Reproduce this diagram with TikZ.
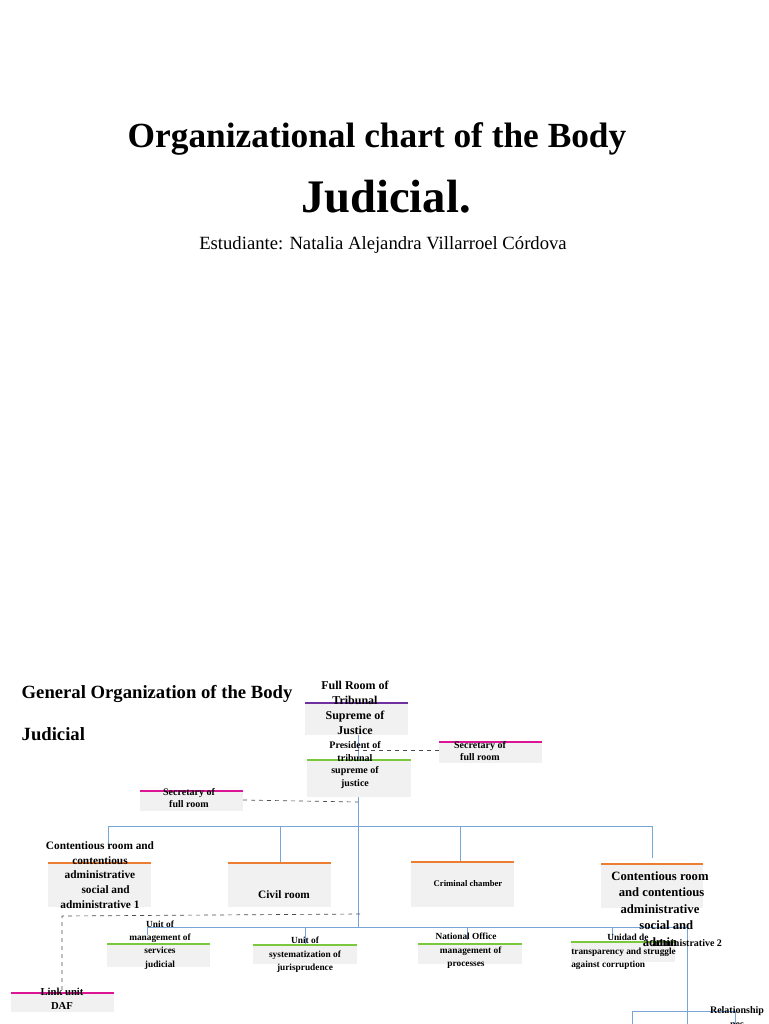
\documentclass[tikz,border=0pt]{standalone}
\usepackage{fontspec}
\setmainfont{Liberation Serif}
\usetikzlibrary{positioning}
\tikzset{>=stealth}
\definecolor{boxgray}{RGB}{241,241,241}
\definecolor{barpurple}{RGB}{112,48,160}
\definecolor{bargreen}{RGB}{122,200,60}
\definecolor{barpink}{RGB}{220,20,150}
\definecolor{barorange}{RGB}{237,125,49}
\definecolor{linkblue}{RGB}{120,165,215}
\tikzset{
  unitbox/.style={fill=boxgray,draw=none},
  unittext/.style={font=\bfseries\fontsize{8}{10}\selectfont,align=center,inner sep=0pt},
  link/.style={linkblue,line width=0.6pt},
  dotlink/.style={black!70,dashed,line width=0.5pt}
}
% box with coloured top bar: x1,y1,x2,y2,colour
\newcommand{\orgbox}[5]{%
  \fill[boxgray] (#1,#2) rectangle (#3,#4);
  \draw[#5,line width=2.2pt] (#1,#2) -- (#3,#2);}
\begin{document}
\begin{tikzpicture}[x=0.75pt,y=-0.75pt]
  \useasboundingbox (0,0) rectangle (768,1024);

  % titles
  \node (title) at (377,139) {\bfseries\fontsize{26.5}{30}\selectfont Organizational chart of the Body};
  \node (title2) at (386,197) {\bfseries\fontsize{35}{40}\selectfont Judicial.};
  \node (student) at (383,245) {\fontsize{14}{17}\selectfont Estudiante: Natalia Alejandra Villarroel Córdova};
  \node[anchor=west] (sub1) at (17,694) {\bfseries\fontsize{14}{17}\selectfont General Organization of the Body};
  \node[anchor=west] (sub2) at (17,734) {\bfseries\fontsize{14}{17}\selectfont Judicial};

  % connectors
  \draw[link] (358,735) -- (358,927);
  \draw[link] (108,826) -- (652,826);
  \foreach \x/\y in {108/847,280/863,460/862,652/858} \draw[link] (\x,826) -- (\x,\y);
  \draw[link] (147,927) -- (687,927);
  \foreach \x/\y in {147/935,305/945,467/940,612/940} \draw[link] (\x,927) -- (\x,\y);
  \draw[link] (687,927) -- (687,1024);
  \draw[link] (632,1011) -- (735,1011);
  \draw[link] (632,1011) -- (632,1024);
  \draw[link] (735,1011) -- (735,1024);
  \draw[dotlink] (355,750) -- (439,750);
  \draw[dotlink] (243,800) -- (358,802);
  \draw[dotlink] (360,914) -- (62,916) -- (62,993);

  % boxes
  \orgbox{305}{703}{408}{735}{barpurple}
  \orgbox{307}{760}{411}{797}{bargreen}
  \orgbox{439}{742}{542}{763}{barpink}
  \orgbox{140}{791}{243}{811}{barpink}
  \orgbox{48}{863}{151}{907}{barorange}
  \orgbox{228}{863}{331}{907}{barorange}
  \orgbox{411}{862}{514}{907}{barorange}
  \orgbox{601}{864}{703}{908}{barorange}
  \orgbox{107}{944}{210}{967}{bargreen}
  \orgbox{253}{945}{357}{964}{bargreen}
  \orgbox{418}{944}{522}{964}{bargreen}
  \orgbox{571}{942}{675}{962}{bargreen}
  \orgbox{11}{993}{114}{1012}{barpink}

  % texts
  \node[unittext,font=\bfseries\fontsize{9}{11.25}\selectfont] (plenary) at (355,708) {Full Room of\\Tribunal\\Supreme of\\Justice};
  \node[unittext,font=\bfseries\fontsize{7.5}{9.5}\selectfont] (president) at (355,765) {President of\\tribunal\\supreme of\\justice};
  \node[unittext,font=\bfseries\fontsize{7.5}{9}\selectfont] (secright) at (480,751) {Secretary of\\full room};
  \node[unittext,font=\bfseries\fontsize{7.5}{9}\selectfont] (secleft) at (189,798) {Secretary of\\full room};
  \node[unittext,font=\bfseries\fontsize{8.5}{11}\selectfont] (contentious1) at (100,875) {Contentious room and\\contentious\\administrative\\\quad social and\\administrative 1};
  \node[unittext,font=\bfseries\fontsize{8.5}{11}\selectfont] (civil) at (284,895) {Civil room};
  \node[unittext,font=\bfseries\fontsize{6.5}{8}\selectfont] (criminal) at (468,884) {Criminal chamber};
  \node[unittext,font=\bfseries\fontsize{9.5}{12.3}\selectfont] (contentious2) at (660,909) {Contentious room\\\ and contentious\\administrative\\\quad social and\\admin};
  \node[unittext,anchor=west,font=\bfseries\fontsize{7.5}{9}\selectfont] (contentious2b) at (652,943) {administrative 2};
  \node[unittext,font=\bfseries\fontsize{7}{10}\selectfont] (services) at (160,945) {Unit of\\management of\\services\\judicial};
  \node[unittext,font=\bfseries\fontsize{7}{10}\selectfont] (jurisprudence) at (305,955) {Unit of\\systematization of\\jurisprudence};
  \node[unittext,font=\bfseries\fontsize{7}{10}\selectfont] (processes) at (466,951) {National Office\\\quad management of\\processes};
  \node[unittext,anchor=west,align=left,font=\bfseries\fontsize{7}{10}\selectfont] (transparency) at (571,952) {\hspace*{27pt}Unidad de\\transparency and struggle\\against corruption};
  \node[unittext,font=\bfseries\fontsize{8}{10.5}\selectfont] (daf) at (62,999) {Link unit\\DAF};
  \node[unittext,font=\bfseries\fontsize{7.5}{10.5}\selectfont] (relations) at (737,1017) {Relationship\\nes};
\end{tikzpicture}
\end{document}
